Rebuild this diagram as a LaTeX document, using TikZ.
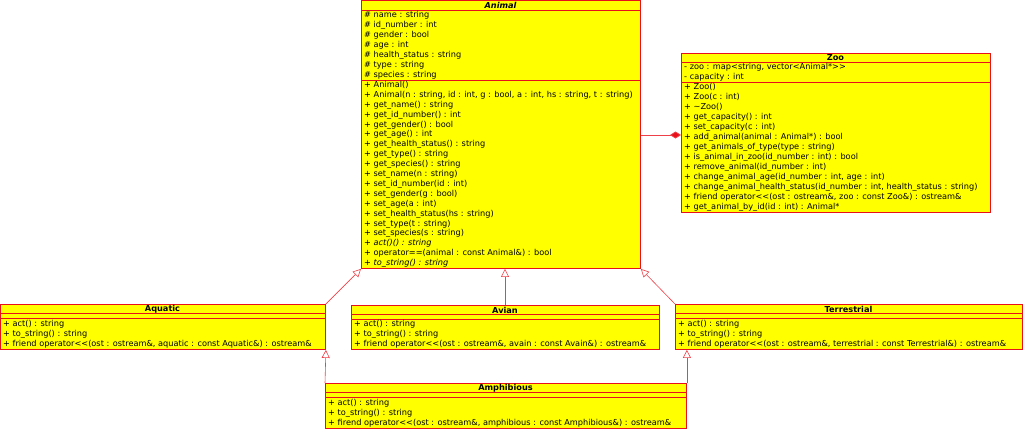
\documentclass[tikz,border=0pt]{standalone}
\usepackage{fontspec}
\setmainfont{DejaVu Sans}
\usetikzlibrary{arrows.meta}
\definecolor{bx}{HTML}{FFFF00}
\definecolor{ln}{HTML}{E8101A}
\tikzset{
 cls/.style={draw=ln,fill=bx,line width=0.9pt,anchor=north west,inner sep=0pt},
 txt/.style={font=\fontsize{8.2}{10}\selectfont,align=left,anchor=north west,inner sep=0pt},
 ttl/.style={font=\fontsize{8.2}{9}\selectfont\bfseries,inner sep=0pt},
 sep/.style={draw=ln,line width=0.8pt},
 inh/.style={draw=ln!80,line width=0.6pt,-{Triangle[open,length=8pt,width=8pt,fill=white]}},
 comp/.style={draw=ln!80,line width=0.8pt,-{Diamond[length=11pt,width=7pt,fill=ln]}}
}
\newcommand{\clsbox}[6]{% name x1 y1 x2 y2 title
 \node[cls,minimum width=#4-#2,minimum height=#5-#3] (#1) at (#2,#3) {};
 \node[ttl] (#1t) at ({(#2+#4)/2},#3+5) {#6};
}
\begin{document}
\begin{tikzpicture}[x=1pt,y=-1pt]
\useasboundingbox (0,0) rectangle (1024,429);
% Animal
\clsbox{animal}{361}{0}{640}{268}{\itshape Animal}
\draw[sep] (361,10)--(640,10); \draw[sep] (361,80)--(640,80);
\node[txt] (animala) at (364,11) {\# name : string\\\# id\_number : int\\\# gender : bool\\\# age : int\\\# health\_status : string\\\# type : string\\\# species : string};
\node[txt,font=\fontsize{8.2}{9.9}\selectfont] (animalm) at (364,81) {+ Animal()\\+ Animal(n : string, id : int, g : bool, a : int, hs : string, t : string)\\+ get\_name() : string\\+ get\_id\_number() : int\\+ get\_gender() : bool\\+ get\_age() : int\\+ get\_health\_status() : string\\+ get\_type() : string\\+ get\_species() : string\\+ set\_name(n : string)\\+ set\_id\_number(id : int)\\+ set\_gender(g : bool)\\+ set\_age(a : int)\\+ set\_health\_status(hs : string)\\+ set\_type(t : string)\\+ set\_species(s : string)\\+ \textit{act()() : string}\\+ operator==(animal : const Animal\&) : bool\\+ \textit{to\_string() : string}};
% Zoo
\clsbox{zoo}{681}{53}{990}{212}{Zoo}
\draw[sep] (681,62)--(990,62); \draw[sep] (681,82)--(990,82);
\node[txt] (zooa) at (684,63) {- zoo : map<string, vector<Animal*>{}>\\- capacity : int};
\node[txt] (zoom) at (684,83) {+ Zoo()\\+ Zoo(c : int)\\+ \textasciitilde Zoo()\\+ get\_capacity() : int\\+ set\_capacity(c : int)\\+ add\_animal(animal : Animal*) : bool\\+ get\_animals\_of\_type(type : string)\\+ is\_animal\_in\_zoo(id\_number : int) : bool\\+ remove\_animal(id\_number : int)\\+ change\_animal\_age(id\_number : int, age : int)\\+ change\_animal\_health\_status(id\_number : int, health\_status : string)\\+ friend operator<{}<(ost : ostream\&, zoo : const Zoo\&) : ostream\&\\+ get\_animal\_by\_id(id : int) : Animal*};
% Aquatic
\clsbox{aquatic}{0}{304}{325}{349}{Aquatic}
\draw[sep] (0,313)--(325,313); \draw[sep] (0,318)--(325,318);
\node[txt] (aquaticm) at (3,320) {+ act() : string\\+ to\_string() : string\\+ friend operator<{}<(ost : ostream\&, aquatic : const Aquatic\&) : ostream\&};
% Avian
\clsbox{avian}{351}{305}{659}{349}{Avian}
\draw[sep] (351,314)--(659,314); \draw[sep] (351,319)--(659,319);
\node[txt] (avianm) at (354,320.5) {+ act() : string\\+ to\_string() : string\\+ friend operator<{}<(ost : ostream\&, avain : const Avain\&) : ostream\&};
% Terrestrial
\clsbox{terr}{675}{304}{1022}{349}{Terrestrial}
\draw[sep] (675,313)--(1022,313); \draw[sep] (675,318)--(1022,318);
\node[txt] (terrm) at (678,320) {+ act() : string\\+ to\_string() : string\\+ friend operator<{}<(ost : ostream\&, terrestrial : const Terrestrial\&) : ostream\&};
% Amphibious
\clsbox{amph}{325}{383}{686}{428}{Amphibious}
\draw[sep] (325,392)--(686,392); \draw[sep] (325,397)--(686,397);
\node[txt] (amphm) at (328,399) {+ act() : string\\+ to\_string() : string\\+ firend operator<{}<(ost : ostream\&, amphibious : const Amphibious\&) : ostream\&};
% connectors
\draw[inh] (aquatic.north east) -- (animal.south west);
\draw[inh] (avian.north -| 505,0) -- (animal.south -| 505,0);
\draw[inh] (terr.north west) -- (animal.south east);
\draw[inh] (amph.north west) -- (aquatic.south east);
\draw[inh] (amph.north east) -- (amph.north east |- terr.south);
\draw[comp] (animal.east |- 0,135) -- (zoo.west |- 0,135);
\end{tikzpicture}
\end{document}
